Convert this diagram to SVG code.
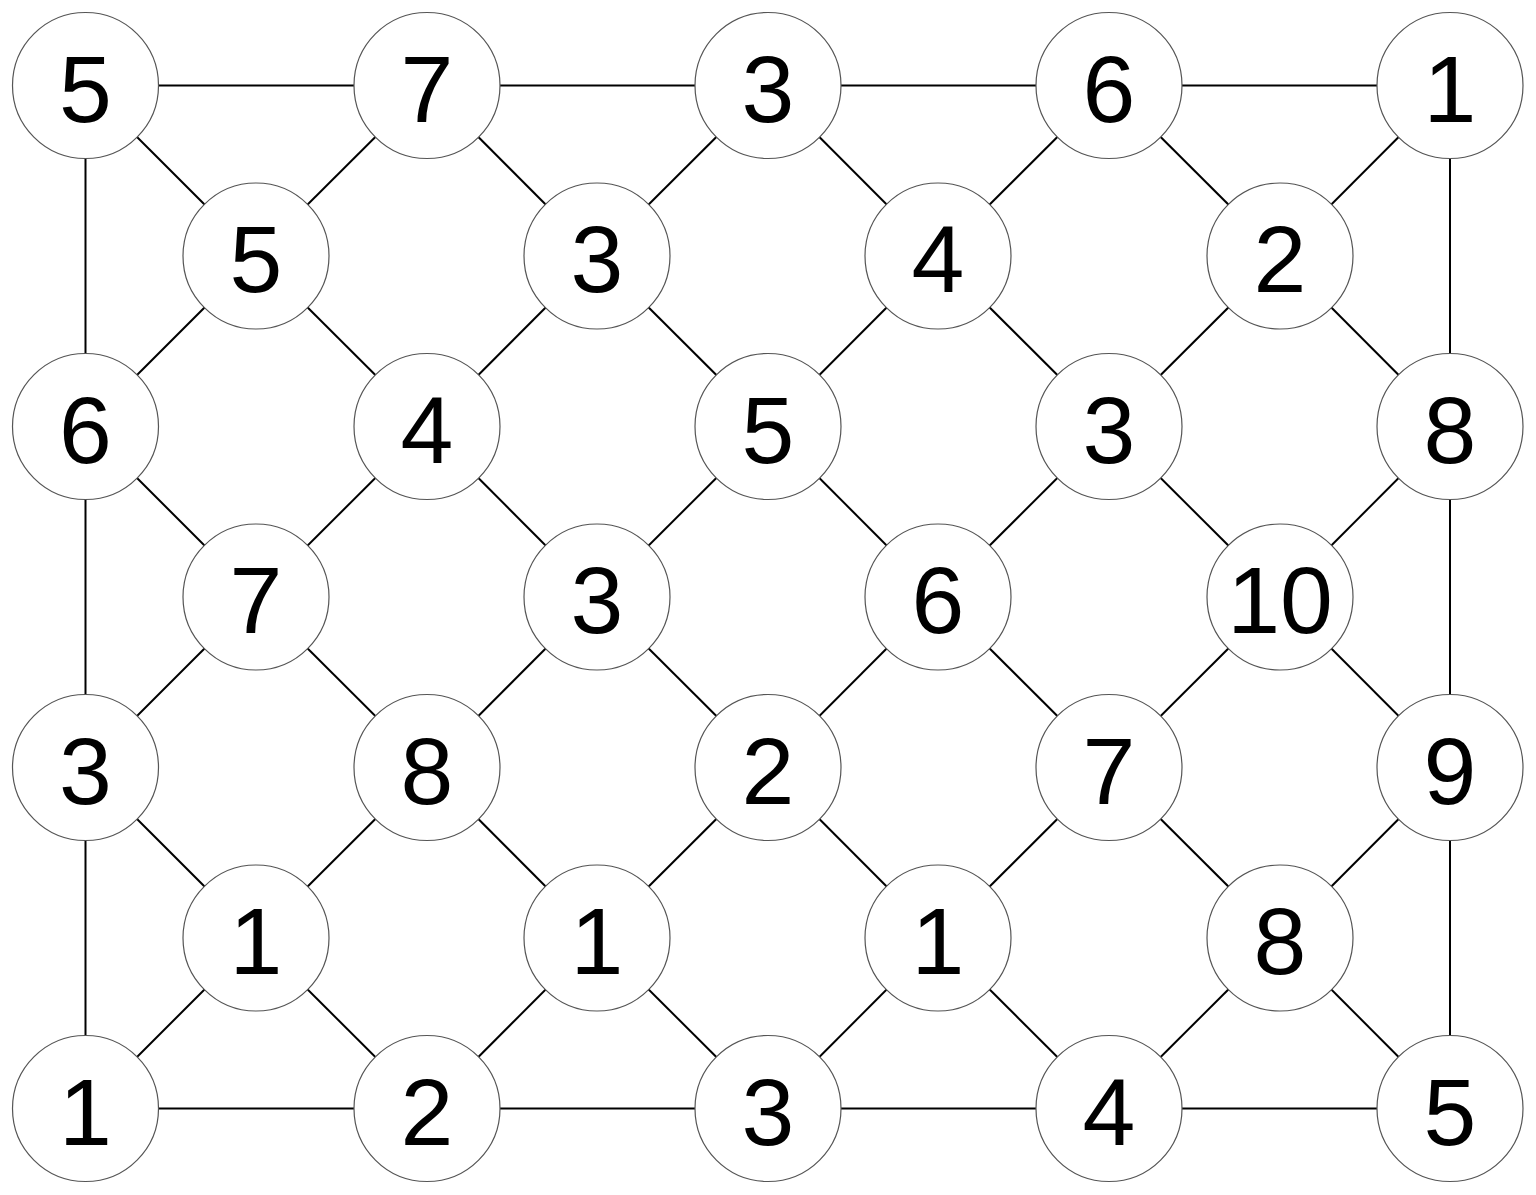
<svg xmlns="http://www.w3.org/2000/svg" width="1536" height="1195" viewBox="0 0 1536 1195">
<style>
.e{stroke:#000;stroke-width:2;fill:none}
.n circle{fill:#fff;stroke:#555;stroke-width:1.2}
.n text{font-family:"Liberation Sans",Arial,sans-serif;font-size:95px;fill:#000;text-anchor:middle}
</style>
<rect width="1536" height="1195" fill="#fff"/>
<g id="connectors">
<line class="e" x1="85.5" y1="85.5" x2="1450" y2="85.5"/>
<line class="e" x1="85.5" y1="1108.5" x2="1450" y2="1108.5"/>
<line class="e" x1="85.5" y1="85.5" x2="85.5" y2="1108.5"/>
<line class="e" x1="1450" y1="85.5" x2="1450" y2="1108.5"/>
<line class="e" x1="85.5" y1="85.5" x2="256" y2="256"/>
<line class="e" x1="427" y1="85.5" x2="256" y2="256"/>
<line class="e" x1="427" y1="85.5" x2="597" y2="256"/>
<line class="e" x1="768" y1="85.5" x2="597" y2="256"/>
<line class="e" x1="768" y1="85.5" x2="938" y2="256"/>
<line class="e" x1="1109" y1="85.5" x2="938" y2="256"/>
<line class="e" x1="1109" y1="85.5" x2="1280" y2="256"/>
<line class="e" x1="1450" y1="85.5" x2="1280" y2="256"/>
<line class="e" x1="256" y1="256" x2="85.5" y2="426.5"/>
<line class="e" x1="256" y1="256" x2="427" y2="426.5"/>
<line class="e" x1="597" y1="256" x2="427" y2="426.5"/>
<line class="e" x1="597" y1="256" x2="768" y2="426.5"/>
<line class="e" x1="938" y1="256" x2="768" y2="426.5"/>
<line class="e" x1="938" y1="256" x2="1109" y2="426.5"/>
<line class="e" x1="1280" y1="256" x2="1109" y2="426.5"/>
<line class="e" x1="1280" y1="256" x2="1450" y2="426.5"/>
<line class="e" x1="85.5" y1="426.5" x2="256" y2="597"/>
<line class="e" x1="427" y1="426.5" x2="256" y2="597"/>
<line class="e" x1="427" y1="426.5" x2="597" y2="597"/>
<line class="e" x1="768" y1="426.5" x2="597" y2="597"/>
<line class="e" x1="768" y1="426.5" x2="938" y2="597"/>
<line class="e" x1="1109" y1="426.5" x2="938" y2="597"/>
<line class="e" x1="1109" y1="426.5" x2="1280" y2="597"/>
<line class="e" x1="1450" y1="426.5" x2="1280" y2="597"/>
<line class="e" x1="256" y1="597" x2="85.5" y2="767.5"/>
<line class="e" x1="256" y1="597" x2="427" y2="767.5"/>
<line class="e" x1="597" y1="597" x2="427" y2="767.5"/>
<line class="e" x1="597" y1="597" x2="768" y2="767.5"/>
<line class="e" x1="938" y1="597" x2="768" y2="767.5"/>
<line class="e" x1="938" y1="597" x2="1109" y2="767.5"/>
<line class="e" x1="1280" y1="597" x2="1109" y2="767.5"/>
<line class="e" x1="1280" y1="597" x2="1450" y2="767.5"/>
<line class="e" x1="85.5" y1="767.5" x2="256" y2="938"/>
<line class="e" x1="427" y1="767.5" x2="256" y2="938"/>
<line class="e" x1="427" y1="767.5" x2="597" y2="938"/>
<line class="e" x1="768" y1="767.5" x2="597" y2="938"/>
<line class="e" x1="768" y1="767.5" x2="938" y2="938"/>
<line class="e" x1="1109" y1="767.5" x2="938" y2="938"/>
<line class="e" x1="1109" y1="767.5" x2="1280" y2="938"/>
<line class="e" x1="1450" y1="767.5" x2="1280" y2="938"/>
<line class="e" x1="256" y1="938" x2="85.5" y2="1108.5"/>
<line class="e" x1="256" y1="938" x2="427" y2="1108.5"/>
<line class="e" x1="597" y1="938" x2="427" y2="1108.5"/>
<line class="e" x1="597" y1="938" x2="768" y2="1108.5"/>
<line class="e" x1="938" y1="938" x2="768" y2="1108.5"/>
<line class="e" x1="938" y1="938" x2="1109" y2="1108.5"/>
<line class="e" x1="1280" y1="938" x2="1109" y2="1108.5"/>
<line class="e" x1="1280" y1="938" x2="1450" y2="1108.5"/>
</g>
<g id="n0_0" class="n"><circle cx="85.5" cy="85.5" r="73"/><text x="85.5" y="121.5">5</text></g>
<g id="n2_0" class="n"><circle cx="427" cy="85.5" r="73"/><text x="427" y="121.5">7</text></g>
<g id="n4_0" class="n"><circle cx="768" cy="85.5" r="73"/><text x="768" y="121.5">3</text></g>
<g id="n6_0" class="n"><circle cx="1109" cy="85.5" r="73"/><text x="1109" y="121.5">6</text></g>
<g id="n8_0" class="n"><circle cx="1450" cy="85.5" r="73"/><text x="1450" y="121.5">1</text></g>
<g id="n1_1" class="n"><circle cx="256" cy="256" r="73"/><text x="256" y="292">5</text></g>
<g id="n3_1" class="n"><circle cx="597" cy="256" r="73"/><text x="597" y="292">3</text></g>
<g id="n5_1" class="n"><circle cx="938" cy="256" r="73"/><text x="938" y="292">4</text></g>
<g id="n7_1" class="n"><circle cx="1280" cy="256" r="73"/><text x="1280" y="292">2</text></g>
<g id="n0_2" class="n"><circle cx="85.5" cy="426.5" r="73"/><text x="85.5" y="462.5">6</text></g>
<g id="n2_2" class="n"><circle cx="427" cy="426.5" r="73"/><text x="427" y="462.5">4</text></g>
<g id="n4_2" class="n"><circle cx="768" cy="426.5" r="73"/><text x="768" y="462.5">5</text></g>
<g id="n6_2" class="n"><circle cx="1109" cy="426.5" r="73"/><text x="1109" y="462.5">3</text></g>
<g id="n8_2" class="n"><circle cx="1450" cy="426.5" r="73"/><text x="1450" y="462.5">8</text></g>
<g id="n1_3" class="n"><circle cx="256" cy="597" r="73"/><text x="256" y="633">7</text></g>
<g id="n3_3" class="n"><circle cx="597" cy="597" r="73"/><text x="597" y="633">3</text></g>
<g id="n5_3" class="n"><circle cx="938" cy="597" r="73"/><text x="938" y="633">6</text></g>
<g id="n7_3" class="n"><circle cx="1280" cy="597" r="73"/><text x="1280" y="633">10</text></g>
<g id="n0_4" class="n"><circle cx="85.5" cy="767.5" r="73"/><text x="85.5" y="803.5">3</text></g>
<g id="n2_4" class="n"><circle cx="427" cy="767.5" r="73"/><text x="427" y="803.5">8</text></g>
<g id="n4_4" class="n"><circle cx="768" cy="767.5" r="73"/><text x="768" y="803.5">2</text></g>
<g id="n6_4" class="n"><circle cx="1109" cy="767.5" r="73"/><text x="1109" y="803.5">7</text></g>
<g id="n8_4" class="n"><circle cx="1450" cy="767.5" r="73"/><text x="1450" y="803.5">9</text></g>
<g id="n1_5" class="n"><circle cx="256" cy="938" r="73"/><text x="256" y="974">1</text></g>
<g id="n3_5" class="n"><circle cx="597" cy="938" r="73"/><text x="597" y="974">1</text></g>
<g id="n5_5" class="n"><circle cx="938" cy="938" r="73"/><text x="938" y="974">1</text></g>
<g id="n7_5" class="n"><circle cx="1280" cy="938" r="73"/><text x="1280" y="974">8</text></g>
<g id="n0_6" class="n"><circle cx="85.5" cy="1108.5" r="73"/><text x="85.5" y="1144.5">1</text></g>
<g id="n2_6" class="n"><circle cx="427" cy="1108.5" r="73"/><text x="427" y="1144.5">2</text></g>
<g id="n4_6" class="n"><circle cx="768" cy="1108.5" r="73"/><text x="768" y="1144.5">3</text></g>
<g id="n6_6" class="n"><circle cx="1109" cy="1108.5" r="73"/><text x="1109" y="1144.5">4</text></g>
<g id="n8_6" class="n"><circle cx="1450" cy="1108.5" r="73"/><text x="1450" y="1144.5">5</text></g>
</svg>
